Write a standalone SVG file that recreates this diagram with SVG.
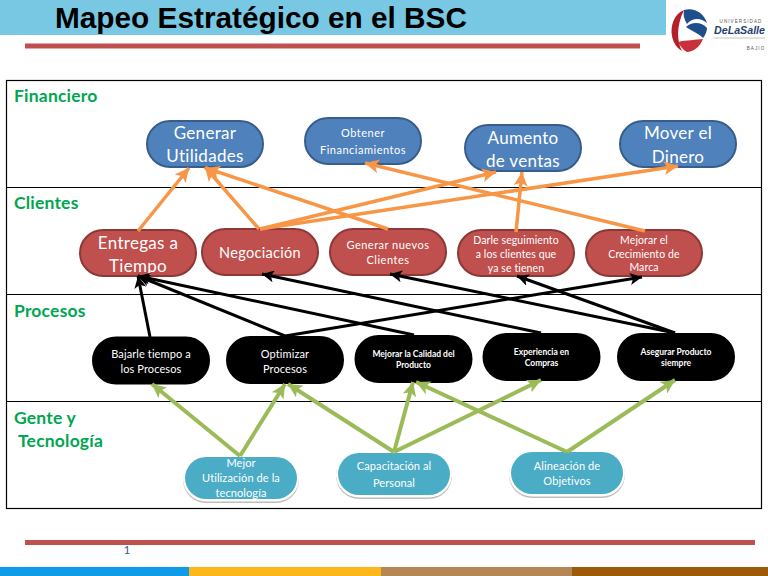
<svg xmlns="http://www.w3.org/2000/svg" width="768" height="576" viewBox="0 0 768 576">
<style>
text{font-family:"Lato","Open Sans","Liberation Sans",sans-serif;text-anchor:middle}
.h{font-weight:700;font-size:17.500px;letter-spacing:.2px;fill:#00a650;text-anchor:start}
.n rect{stroke-width:2}
.b rect{fill:#4f81bd;stroke:#385d8a}
.r rect{fill:#c0504d;stroke:#8c3836}
.k rect{fill:#000;stroke:#000}
.t rect{fill:#4bacc6;stroke:none}
.t rect.o{fill:#fff}
.t rect.d{fill:#bdbdbd}
.n text{fill:#fff}
.l{font-size:17px;letter-spacing:.3px}
.m{font-size:11px;letter-spacing:.5px}
.s{font-size:10.500px;letter-spacing:.1px}
.x{font-size:8.500px;font-weight:700}
.or{stroke:#f79646;stroke-width:3.500;fill:none;marker-end:url(#ao)}
.bl{stroke:#000;stroke-width:3;fill:none;marker-end:url(#ab)}
.gr{stroke:#9bbb59;stroke-width:4;fill:none;marker-end:url(#ag)}
</style>
<defs>
<marker id="ao" markerUnits="userSpaceOnUse" markerWidth="14" markerHeight="14" refX="12" refY="6" orient="auto" viewBox="0 0 12 12"><path d="M0 0L12 6L0 12L3 6Z" fill="#f79646"/></marker>
<marker id="ab" markerUnits="userSpaceOnUse" markerWidth="12" markerHeight="12" refX="12" refY="6" orient="auto" viewBox="0 0 12 12"><path d="M0 0L12 6L0 12L3 6Z" fill="#000"/></marker>
<marker id="ag" markerUnits="userSpaceOnUse" markerWidth="14" markerHeight="14" refX="12" refY="6" orient="auto" viewBox="0 0 12 12"><path d="M0 0L12 6L0 12L3 6Z" fill="#9bbb59"/></marker>
</defs>
<rect width="768" height="576" fill="#fff"/>
<g id="header">
<rect x="0" y="0" width="666" height="35" fill="#78c8e4"/>
<rect x="25" y="43.500" width="615" height="5" fill="#c0504d"/>
<text x="55" y="27.500" textLength="412" lengthAdjust="spacingAndGlyphs" style="font-family:'Liberation Sans',sans-serif;font-weight:700;font-size:29.500px;text-anchor:start" fill="#000">Mapeo Estratégico en el BSC</text>
</g>
<g id="logo">
<ellipse cx="689" cy="31" rx="18" ry="21.500" fill="#fff"/>
<path d="M684 10C674 14 670 26 672 36C673 43 678 49 682 51C677 42 676 26 684 10Z" fill="#b3202c"/>
<path d="M684 10C694 7 704 13 707 23C700 17 692 18 687 24C684 19 683 15 684 10Z" fill="#1f4e8c"/>
<path d="M686 27C692 21 702 22 707 28C707 31 705 36 703 38C698 33 692 31 686 27Z" fill="#1f4e8c"/>
<path d="M678 42C686 40 696 40 703 39C700 47 693 52 687 52C683 50 680 46 678 42Z" fill="#c8303a"/>
<text x="741" y="23" style="font-size:4.500px;letter-spacing:1.100px;font-family:'Liberation Sans',sans-serif" fill="#555">UNIVERSIDAD</text>
<text x="739.500" y="34" textLength="51" lengthAdjust="spacingAndGlyphs" style="font-size:11.500px;font-weight:700;font-style:italic;font-family:'Liberation Sans',sans-serif" fill="#1f3f6e">DeLaSalle</text>
<line x1="714" y1="38" x2="765" y2="38" stroke="#aaa" stroke-width=".7"/>
<text x="756" y="50" style="font-size:4.500px;letter-spacing:1.100px;font-family:'Liberation Sans',sans-serif" fill="#555">BAJIO</text>
</g>
<g id="frame" fill="none" stroke="#000" stroke-width="1.200">
<rect x="6.500" y="80.500" width="755" height="428"/>
<line x1="6.500" y1="187.500" x2="761.500" y2="187.500"/>
<line x1="6.500" y1="294.500" x2="761.500" y2="294.500"/>
<line x1="6.500" y1="401.500" x2="761.500" y2="401.500"/>
</g>
<g id="labels">
<text class="h" x="14" y="102">Financiero</text>
<text class="h" x="14" y="209">Clientes</text>
<text class="h" x="14" y="317">Procesos</text>
<text class="h" x="14" y="424">Gente y</text>
<text class="h" x="18" y="447">Tecnología</text>
</g>
<g id="n-utilidades" class="n b"><rect x="147" y="121" width="116" height="46" rx="23"/><text class="l" x="205" y="139">Generar</text><text class="l" x="205" y="162">Utilidades</text></g>
<g id="n-financiamientos" class="n b"><rect x="305" y="118" width="116" height="46" rx="23"/><text class="m" x="363" y="137">Obtener</text><text class="m" x="363" y="154">Financiamientos</text></g>
<g id="n-ventas" class="n b"><rect x="465" y="125" width="116" height="46" rx="23"/><text class="l" x="523" y="144">Aumento</text><text class="l" x="523" y="167">de ventas</text></g>
<g id="n-dinero" class="n b"><rect x="620" y="121" width="116" height="46" rx="23"/><text class="l" x="678" y="139">Mover el</text><text class="l" x="678" y="163">Dinero</text></g>
<g id="n-entregas" class="n r"><rect x="80" y="230" width="116" height="46" rx="23"/><text class="l" x="138" y="249">Entregas a</text><text class="l" x="138" y="272">Tiempo</text></g>
<g id="n-negociacion" class="n r"><rect x="202" y="229" width="116" height="46" rx="23"/><text class="l" style="font-size:14.500px" x="260" y="258">Negociación</text></g>
<g id="n-nuevos" class="n r"><rect x="330" y="229" width="116" height="46" rx="23"/><text class="m" x="388" y="249">Generar nuevos</text><text class="m" x="388" y="264">Clientes</text></g>
<g id="n-seguimiento" class="n r"><rect x="458" y="230" width="116" height="46" rx="23"/><text class="s" x="516" y="244">Darle seguimiento</text><text class="s" x="516" y="258">a los clientes que</text><text class="s" x="516" y="272">ya se tienen</text></g>
<g id="n-marca" class="n r"><rect x="586" y="230" width="116" height="46" rx="23"/><text class="s" x="644" y="244">Mejorar el</text><text class="s" x="644" y="258">Crecimiento de</text><text class="s" x="644" y="271">Marca</text></g>
<g id="n-bajarle" class="n k"><rect x="93" y="337.500" width="116" height="46" rx="23"/><text class="s" style="font-size:11px" x="151" y="358">Bajarle tiempo a</text><text class="s" style="font-size:11px" x="151" y="373">los Procesos</text></g>
<g id="n-optimizar" class="n k"><rect x="227" y="337" width="116" height="46" rx="23"/><text class="s" style="font-size:11px" x="285" y="358">Optimizar</text><text class="s" style="font-size:11px" x="285" y="373">Procesos</text></g>
<g id="n-calidad" class="n k"><rect x="355.500" y="336" width="116" height="46" rx="23"/><text class="x" x="413.500" y="357">Mejorar la Calidad del</text><text class="x" x="413.500" y="368">Producto</text></g>
<g id="n-compras" class="n k"><rect x="483.500" y="334" width="116" height="46" rx="23"/><text class="x" x="541.500" y="355">Experiencia en</text><text class="x" x="541.500" y="366">Compras</text></g>
<g id="n-asegurar" class="n k"><rect x="618" y="334" width="116" height="46" rx="23"/><text class="x" x="676" y="355">Asegurar Producto</text><text class="x" x="676" y="366">siempre</text></g>
<g id="n-utilizacion" class="n t"><rect class="d" x="183" y="457" width="116" height="46" rx="23"/><rect class="o" x="183" y="455.500" width="116" height="46" rx="23"/><rect x="185" y="457" width="112" height="42" rx="21"/><text class="s" style="font-size:11px" x="241" y="467">Mejor</text><text class="s" style="font-size:11px" x="241" y="482">Utilización de la</text><text class="s" style="font-size:11px" x="241" y="497">tecnología</text></g>
<g id="n-capacitacion" class="n t"><rect class="d" x="336" y="453" width="116" height="46" rx="23"/><rect class="o" x="336" y="451.500" width="116" height="46" rx="23"/><rect x="338" y="453" width="112" height="42" rx="21"/><text class="s" style="font-size:11px" x="394" y="470">Capacitación al</text><text class="s" style="font-size:11px" x="394" y="487">Personal</text></g>
<g id="n-alineacion" class="n t"><rect class="d" x="509" y="452" width="116" height="46" rx="23"/><rect class="o" x="509" y="450.500" width="116" height="46" rx="23"/><rect x="511" y="452" width="112" height="42" rx="21"/><text class="s" style="font-size:11px" x="567" y="470">Alineación de</text><text class="s" style="font-size:11px" x="567" y="485">Objetivos</text></g>
<g id="connectors">
<line class="or" x1="138" y1="231" x2="189" y2="168"/>
<line class="or" x1="259" y1="229" x2="205" y2="167"/>
<line class="or" x1="388" y1="229" x2="206" y2="168"/>
<line class="or" x1="260" y1="229" x2="496" y2="172"/>
<line class="or" x1="260" y1="229" x2="678" y2="166"/>
<line class="or" x1="516" y1="232" x2="522" y2="172"/>
<line class="or" x1="645" y1="231" x2="365" y2="163"/>
<line class="bl" x1="150" y1="337" x2="138" y2="276"/>
<line class="bl" x1="285" y1="336" x2="138" y2="276"/>
<line class="bl" x1="414" y1="335" x2="138" y2="276"/>
<line class="bl" x1="541" y1="333" x2="262" y2="274"/>
<line class="bl" x1="675" y1="333" x2="390" y2="274"/>
<line class="bl" x1="675" y1="333" x2="517" y2="276"/>
<line class="bl" x1="285" y1="336" x2="642" y2="277"/>
<line class="gr" x1="240" y1="456" x2="152" y2="384"/>
<line class="gr" x1="240" y1="456" x2="285" y2="384"/>
<line class="gr" x1="394" y1="452" x2="288" y2="384"/>
<line class="gr" x1="394" y1="452" x2="413" y2="382"/>
<line class="gr" x1="394" y1="452" x2="541" y2="380"/>
<line class="gr" x1="567" y1="452" x2="416" y2="382"/>
<line class="gr" x1="567" y1="452" x2="675" y2="380"/>
</g>
<g id="footer">
<rect x="25" y="540" width="730" height="5" fill="#c0504d"/>
<text x="127" y="554" style="font-size:12px" fill="#44608c">1</text>
<rect x="0" y="567" width="189" height="9" fill="#0f9be9"/>
<rect x="189" y="567" width="192" height="9" fill="#fdb71a"/>
<rect x="381" y="567" width="191" height="9" fill="#b58755"/>
<rect x="572" y="567" width="196" height="9" fill="#9d5b0a"/>
</g>
</svg>
